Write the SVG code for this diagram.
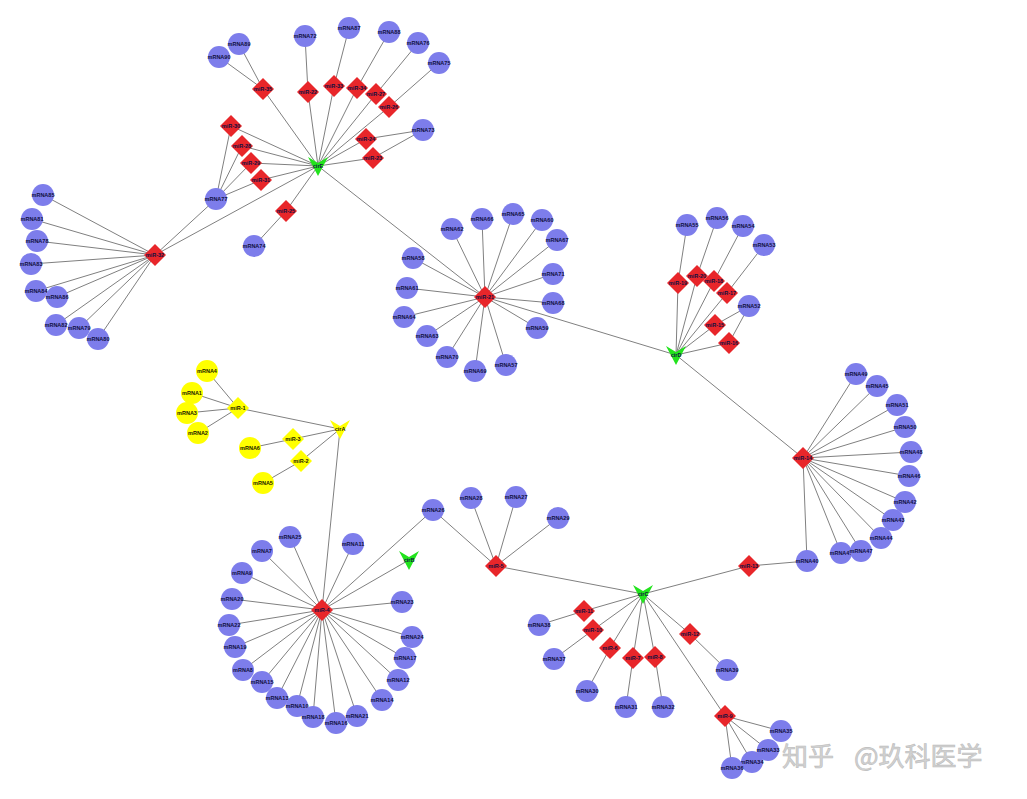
<svg xmlns="http://www.w3.org/2000/svg" xmlns:xlink="http://www.w3.org/1999/xlink" width="1027" height="799" viewBox="0 0 1027 799">
<style>
.bg{fill:#ffffff}
.e{stroke:#808080;stroke-width:1;fill:none}
.m{fill:#7d7deb}
.r{fill:#e8262a}
.g{fill:#22e31d}
.y{fill:#ffff00}
text{font-family:"Liberation Sans",Arial,sans-serif;font-size:5.5px;font-weight:bold;fill:#101040;text-anchor:middle;dominant-baseline:central}
.yt{fill:#202000}
.wm{font-family:"Noto Sans CJK SC","Liberation Sans",sans-serif;font-size:26px;font-weight:normal;fill:#d2d2d2;stroke:#bcbcbc;stroke-width:0.6;text-anchor:start;dominant-baseline:auto}
</style>
<defs>
<circle id="c" r="11"/>
<polygon id="d" points="0,-11 11,0 0,11 -11,0"/>
<polygon id="v" points="-10,-9 0,-3 10,-9 0,10"/>
</defs>
<rect class="bg" width="1027" height="799"/>
<g id="watermark">
<text class="wm" x="782" y="766">知乎</text>
<text class="wm" x="854" y="766">@玖科医学</text>
</g>
<g id="connectors" class="e">
<path d="M318,166L263,89M318,166L308,92M318,166L334,86M318,166L357,88M318,166L376,94M318,166L389,107M318,166L366,139M318,166L373,158M318,166L231,126M318,166L242,146M318,166L251,163M318,166L261,180M318,166L286,211M318,166L155,255M318,166L485,297"/>
<path d="M216,199L231,126M216,199L242,146M216,199L251,163M216,199L261,180M216,199L155,255"/>
<path d="M155,255L43,195M155,255L32,219M155,255L37,241M155,255L31,264M155,255L36,291M155,255L57,297M155,255L56,325M155,255L79,328M155,255L98,339"/>
<path d="M263,89L239,44M263,89L219,57M308,92L305,36M334,86L349,28M357,88L389,32M376,94L418,43M389,107L439,63M366,139L423,130M373,158L423,130M286,211L254,246"/>
<path d="M485,297L452,229M485,297L482,219M485,297L513,214M485,297L542,220M485,297L557,240M485,297L553,274M485,297L553,303M485,297L537,328M485,297L506,365M485,297L475,371M485,297L447,357M485,297L427,336M485,297L404,317M485,297L407,288M485,297L413,258M485,297L676,355"/>
<path d="M676,355L678,283M676,355L697,276M676,355L714,281M676,355L727,293M676,355L715,325M676,355L729,343M676,355L803,458M678,283L687,225M697,276L717,218M714,281L743,226M727,293L764,245M715,325L749,306M729,343L749,306"/>
<path d="M803,458L856,374M803,458L877,386M803,458L897,405M803,458L905,427M803,458L911,452M803,458L909,476M803,458L905,502M803,458L893,520M803,458L881,538M803,458L861,551M803,458L841,553M803,458L807,561M807,561L749,566M749,566L643,594"/>
<path d="M643,594L584,611M643,594L593,630M643,594L610,648M643,594L633,658M643,594L655,657M643,594L690,634M643,594L725,716M643,594L496,566M584,611L539,625M593,630L554,659M610,648L587,691M633,658L626,707M655,657L663,707M690,634L727,670M725,716L781,731M725,716L768,750M725,716L752,762M725,716L732,768"/>
<path d="M496,566L433,510M496,566L471,498M496,566L516,497M496,566L558,518"/>
<path d="M322,610L290,537M322,610L353,544M322,610L262,551M322,610L242,573M322,610L232,599M322,610L229,625M322,610L235,647M322,610L243,670M322,610L262,682M322,610L277,698M322,610L297,706M322,610L313,717M322,610L336,723M322,610L357,716M322,610L382,700M322,610L398,680M322,610L405,658M322,610L412,637M322,610L402,602M322,610L409,560M322,610L433,510M322,610L340,429"/>
<path d="M238,408L207,371M238,408L192,393M238,408L187,413M238,408L198,433M238,408L340,429M293,439L250,448M293,439L340,429M301,461L263,483M301,461L340,429"/>
</g>
<g id="cirE" transform="translate(318,166)"><use href="#v" class="g"/><text>cirE</text></g>
<g id="cirD" transform="translate(676,355)"><use href="#v" class="g"/><text>cirD</text></g>
<g id="cirB" transform="translate(409,560)"><use href="#v" class="g"/><text>cirB</text></g>
<g id="cirC" transform="translate(643,594)"><use href="#v" class="g"/><text>cirC</text></g>
<g id="cirA" transform="translate(340,429)"><use href="#v" class="y"/><text class="yt">cirA</text></g>
<g id="miR-1" transform="translate(238,408)"><use href="#d" class="y"/><text class="yt">miR-1</text></g>
<g id="miR-2" transform="translate(301,461)"><use href="#d" class="y"/><text class="yt">miR-2</text></g>
<g id="miR-3" transform="translate(293,439)"><use href="#d" class="y"/><text class="yt">miR-3</text></g>
<g id="mRNA1" transform="translate(192,393)"><use href="#c" class="y"/><text class="yt">mRNA1</text></g>
<g id="mRNA2" transform="translate(198,433)"><use href="#c" class="y"/><text class="yt">mRNA2</text></g>
<g id="mRNA3" transform="translate(187,413)"><use href="#c" class="y"/><text class="yt">mRNA3</text></g>
<g id="mRNA4" transform="translate(207,371)"><use href="#c" class="y"/><text class="yt">mRNA4</text></g>
<g id="mRNA5" transform="translate(263,483)"><use href="#c" class="y"/><text class="yt">mRNA5</text></g>
<g id="mRNA6" transform="translate(250,448)"><use href="#c" class="y"/><text class="yt">mRNA6</text></g>
<g id="miR-4" transform="translate(322,610)"><use href="#d" class="r"/><text>miR-4</text></g>
<g id="miR-5" transform="translate(496,566)"><use href="#d" class="r"/><text>miR-5</text></g>
<g id="miR-6" transform="translate(610,648)"><use href="#d" class="r"/><text>miR-6</text></g>
<g id="miR-7" transform="translate(633,658)"><use href="#d" class="r"/><text>miR-7</text></g>
<g id="miR-8" transform="translate(655,657)"><use href="#d" class="r"/><text>miR-8</text></g>
<g id="miR-9" transform="translate(725,716)"><use href="#d" class="r"/><text>miR-9</text></g>
<g id="miR-10" transform="translate(593,630)"><use href="#d" class="r"/><text>miR-10</text></g>
<g id="miR-11" transform="translate(584,611)"><use href="#d" class="r"/><text>miR-11</text></g>
<g id="miR-12" transform="translate(690,634)"><use href="#d" class="r"/><text>miR-12</text></g>
<g id="miR-13" transform="translate(749,566)"><use href="#d" class="r"/><text>miR-13</text></g>
<g id="miR-14" transform="translate(803,458)"><use href="#d" class="r"/><text>miR-14</text></g>
<g id="miR-15" transform="translate(715,325)"><use href="#d" class="r"/><text>miR-15</text></g>
<g id="miR-16" transform="translate(729,343)"><use href="#d" class="r"/><text>miR-16</text></g>
<g id="miR-17" transform="translate(727,293)"><use href="#d" class="r"/><text>miR-17</text></g>
<g id="miR-18" transform="translate(714,281)"><use href="#d" class="r"/><text>miR-18</text></g>
<g id="miR-19" transform="translate(678,283)"><use href="#d" class="r"/><text>miR-19</text></g>
<g id="miR-20" transform="translate(697,276)"><use href="#d" class="r"/><text>miR-20</text></g>
<g id="miR-21" transform="translate(485,297)"><use href="#d" class="r"/><text>miR-21</text></g>
<g id="miR-22" transform="translate(308,92)"><use href="#d" class="r"/><text>miR-22</text></g>
<g id="miR-23" transform="translate(373,158)"><use href="#d" class="r"/><text>miR-23</text></g>
<g id="miR-24" transform="translate(366,139)"><use href="#d" class="r"/><text>miR-24</text></g>
<g id="miR-25" transform="translate(286,211)"><use href="#d" class="r"/><text>miR-25</text></g>
<g id="miR-26" transform="translate(389,107)"><use href="#d" class="r"/><text>miR-26</text></g>
<g id="miR-27" transform="translate(376,94)"><use href="#d" class="r"/><text>miR-27</text></g>
<g id="miR-28" transform="translate(242,146)"><use href="#d" class="r"/><text>miR-28</text></g>
<g id="miR-29" transform="translate(251,163)"><use href="#d" class="r"/><text>miR-29</text></g>
<g id="miR-30" transform="translate(231,126)"><use href="#d" class="r"/><text>miR-30</text></g>
<g id="miR-31" transform="translate(261,180)"><use href="#d" class="r"/><text>miR-31</text></g>
<g id="miR-32" transform="translate(155,255)"><use href="#d" class="r"/><text>miR-32</text></g>
<g id="miR-33" transform="translate(334,86)"><use href="#d" class="r"/><text>miR-33</text></g>
<g id="miR-34" transform="translate(357,88)"><use href="#d" class="r"/><text>miR-34</text></g>
<g id="miR-35" transform="translate(263,89)"><use href="#d" class="r"/><text>miR-35</text></g>
<g id="mRNA7" transform="translate(262,551)"><use href="#c" class="m"/><text>mRNA7</text></g>
<g id="mRNA8" transform="translate(243,670)"><use href="#c" class="m"/><text>mRNA8</text></g>
<g id="mRNA9" transform="translate(242,573)"><use href="#c" class="m"/><text>mRNA9</text></g>
<g id="mRNA10" transform="translate(297,706)"><use href="#c" class="m"/><text>mRNA10</text></g>
<g id="mRNA11" transform="translate(353,544)"><use href="#c" class="m"/><text>mRNA11</text></g>
<g id="mRNA12" transform="translate(398,680)"><use href="#c" class="m"/><text>mRNA12</text></g>
<g id="mRNA13" transform="translate(277,698)"><use href="#c" class="m"/><text>mRNA13</text></g>
<g id="mRNA14" transform="translate(382,700)"><use href="#c" class="m"/><text>mRNA14</text></g>
<g id="mRNA15" transform="translate(262,682)"><use href="#c" class="m"/><text>mRNA15</text></g>
<g id="mRNA16" transform="translate(336,723)"><use href="#c" class="m"/><text>mRNA16</text></g>
<g id="mRNA17" transform="translate(405,658)"><use href="#c" class="m"/><text>mRNA17</text></g>
<g id="mRNA18" transform="translate(313,717)"><use href="#c" class="m"/><text>mRNA18</text></g>
<g id="mRNA19" transform="translate(235,647)"><use href="#c" class="m"/><text>mRNA19</text></g>
<g id="mRNA20" transform="translate(232,599)"><use href="#c" class="m"/><text>mRNA20</text></g>
<g id="mRNA21" transform="translate(357,716)"><use href="#c" class="m"/><text>mRNA21</text></g>
<g id="mRNA22" transform="translate(229,625)"><use href="#c" class="m"/><text>mRNA22</text></g>
<g id="mRNA23" transform="translate(402,602)"><use href="#c" class="m"/><text>mRNA23</text></g>
<g id="mRNA24" transform="translate(412,637)"><use href="#c" class="m"/><text>mRNA24</text></g>
<g id="mRNA25" transform="translate(290,537)"><use href="#c" class="m"/><text>mRNA25</text></g>
<g id="mRNA26" transform="translate(433,510)"><use href="#c" class="m"/><text>mRNA26</text></g>
<g id="mRNA27" transform="translate(516,497)"><use href="#c" class="m"/><text>mRNA27</text></g>
<g id="mRNA28" transform="translate(471,498)"><use href="#c" class="m"/><text>mRNA28</text></g>
<g id="mRNA29" transform="translate(558,518)"><use href="#c" class="m"/><text>mRNA29</text></g>
<g id="mRNA30" transform="translate(587,691)"><use href="#c" class="m"/><text>mRNA30</text></g>
<g id="mRNA31" transform="translate(626,707)"><use href="#c" class="m"/><text>mRNA31</text></g>
<g id="mRNA32" transform="translate(663,707)"><use href="#c" class="m"/><text>mRNA32</text></g>
<g id="mRNA33" transform="translate(768,750)"><use href="#c" class="m"/><text>mRNA33</text></g>
<g id="mRNA34" transform="translate(752,762)"><use href="#c" class="m"/><text>mRNA34</text></g>
<g id="mRNA35" transform="translate(781,731)"><use href="#c" class="m"/><text>mRNA35</text></g>
<g id="mRNA36" transform="translate(732,768)"><use href="#c" class="m"/><text>mRNA36</text></g>
<g id="mRNA37" transform="translate(554,659)"><use href="#c" class="m"/><text>mRNA37</text></g>
<g id="mRNA38" transform="translate(539,625)"><use href="#c" class="m"/><text>mRNA38</text></g>
<g id="mRNA39" transform="translate(727,670)"><use href="#c" class="m"/><text>mRNA39</text></g>
<g id="mRNA40" transform="translate(807,561)"><use href="#c" class="m"/><text>mRNA40</text></g>
<g id="mRNA41" transform="translate(841,553)"><use href="#c" class="m"/><text>mRNA41</text></g>
<g id="mRNA42" transform="translate(905,502)"><use href="#c" class="m"/><text>mRNA42</text></g>
<g id="mRNA43" transform="translate(893,520)"><use href="#c" class="m"/><text>mRNA43</text></g>
<g id="mRNA44" transform="translate(881,538)"><use href="#c" class="m"/><text>mRNA44</text></g>
<g id="mRNA45" transform="translate(877,386)"><use href="#c" class="m"/><text>mRNA45</text></g>
<g id="mRNA46" transform="translate(909,476)"><use href="#c" class="m"/><text>mRNA46</text></g>
<g id="mRNA47" transform="translate(861,551)"><use href="#c" class="m"/><text>mRNA47</text></g>
<g id="mRNA48" transform="translate(911,452)"><use href="#c" class="m"/><text>mRNA48</text></g>
<g id="mRNA49" transform="translate(856,374)"><use href="#c" class="m"/><text>mRNA49</text></g>
<g id="mRNA50" transform="translate(905,427)"><use href="#c" class="m"/><text>mRNA50</text></g>
<g id="mRNA51" transform="translate(897,405)"><use href="#c" class="m"/><text>mRNA51</text></g>
<g id="mRNA52" transform="translate(749,306)"><use href="#c" class="m"/><text>mRNA52</text></g>
<g id="mRNA53" transform="translate(764,245)"><use href="#c" class="m"/><text>mRNA53</text></g>
<g id="mRNA54" transform="translate(743,226)"><use href="#c" class="m"/><text>mRNA54</text></g>
<g id="mRNA55" transform="translate(687,225)"><use href="#c" class="m"/><text>mRNA55</text></g>
<g id="mRNA56" transform="translate(717,218)"><use href="#c" class="m"/><text>mRNA56</text></g>
<g id="mRNA57" transform="translate(506,365)"><use href="#c" class="m"/><text>mRNA57</text></g>
<g id="mRNA58" transform="translate(413,258)"><use href="#c" class="m"/><text>mRNA58</text></g>
<g id="mRNA59" transform="translate(537,328)"><use href="#c" class="m"/><text>mRNA59</text></g>
<g id="mRNA60" transform="translate(542,220)"><use href="#c" class="m"/><text>mRNA60</text></g>
<g id="mRNA61" transform="translate(407,288)"><use href="#c" class="m"/><text>mRNA61</text></g>
<g id="mRNA62" transform="translate(452,229)"><use href="#c" class="m"/><text>mRNA62</text></g>
<g id="mRNA63" transform="translate(427,336)"><use href="#c" class="m"/><text>mRNA63</text></g>
<g id="mRNA64" transform="translate(404,317)"><use href="#c" class="m"/><text>mRNA64</text></g>
<g id="mRNA65" transform="translate(513,214)"><use href="#c" class="m"/><text>mRNA65</text></g>
<g id="mRNA66" transform="translate(482,219)"><use href="#c" class="m"/><text>mRNA66</text></g>
<g id="mRNA67" transform="translate(557,240)"><use href="#c" class="m"/><text>mRNA67</text></g>
<g id="mRNA68" transform="translate(553,303)"><use href="#c" class="m"/><text>mRNA68</text></g>
<g id="mRNA69" transform="translate(475,371)"><use href="#c" class="m"/><text>mRNA69</text></g>
<g id="mRNA70" transform="translate(447,357)"><use href="#c" class="m"/><text>mRNA70</text></g>
<g id="mRNA71" transform="translate(553,274)"><use href="#c" class="m"/><text>mRNA71</text></g>
<g id="mRNA72" transform="translate(305,36)"><use href="#c" class="m"/><text>mRNA72</text></g>
<g id="mRNA73" transform="translate(423,130)"><use href="#c" class="m"/><text>mRNA73</text></g>
<g id="mRNA74" transform="translate(254,246)"><use href="#c" class="m"/><text>mRNA74</text></g>
<g id="mRNA75" transform="translate(439,63)"><use href="#c" class="m"/><text>mRNA75</text></g>
<g id="mRNA76" transform="translate(418,43)"><use href="#c" class="m"/><text>mRNA76</text></g>
<g id="mRNA77" transform="translate(216,199)"><use href="#c" class="m"/><text>mRNA77</text></g>
<g id="mRNA78" transform="translate(37,241)"><use href="#c" class="m"/><text>mRNA78</text></g>
<g id="mRNA79" transform="translate(79,328)"><use href="#c" class="m"/><text>mRNA79</text></g>
<g id="mRNA80" transform="translate(98,339)"><use href="#c" class="m"/><text>mRNA80</text></g>
<g id="mRNA81" transform="translate(32,219)"><use href="#c" class="m"/><text>mRNA81</text></g>
<g id="mRNA82" transform="translate(56,325)"><use href="#c" class="m"/><text>mRNA82</text></g>
<g id="mRNA83" transform="translate(31,264)"><use href="#c" class="m"/><text>mRNA83</text></g>
<g id="mRNA84" transform="translate(36,291)"><use href="#c" class="m"/><text>mRNA84</text></g>
<g id="mRNA85" transform="translate(43,195)"><use href="#c" class="m"/><text>mRNA85</text></g>
<g id="mRNA86" transform="translate(57,297)"><use href="#c" class="m"/><text>mRNA86</text></g>
<g id="mRNA87" transform="translate(349,28)"><use href="#c" class="m"/><text>mRNA87</text></g>
<g id="mRNA88" transform="translate(389,32)"><use href="#c" class="m"/><text>mRNA88</text></g>
<g id="mRNA89" transform="translate(239,44)"><use href="#c" class="m"/><text>mRNA89</text></g>
<g id="mRNA90" transform="translate(219,57)"><use href="#c" class="m"/><text>mRNA90</text></g>
</svg>
